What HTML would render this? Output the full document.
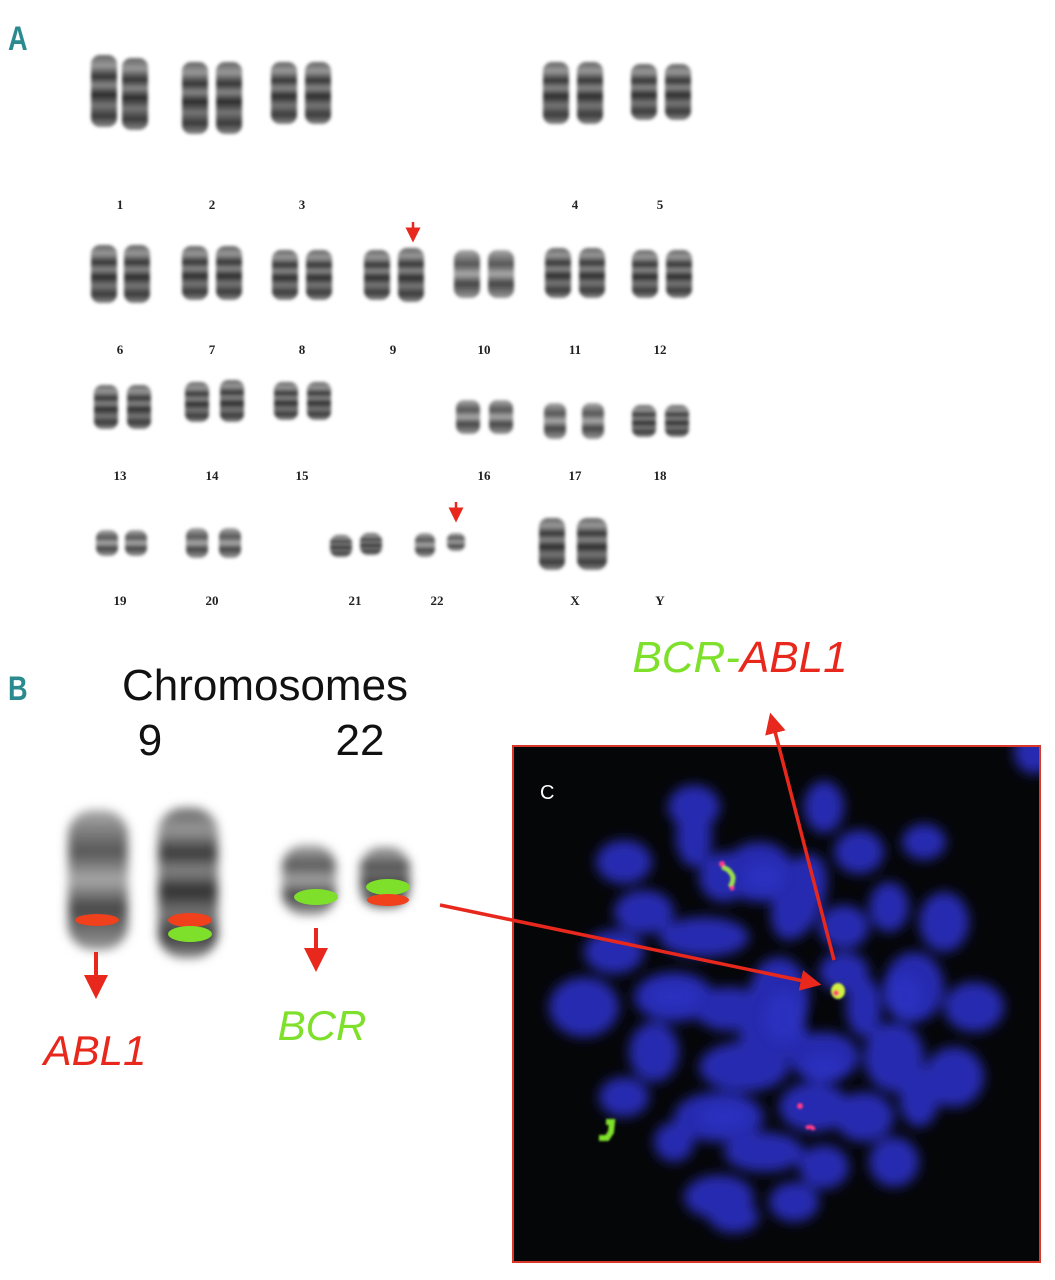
<!DOCTYPE html>
<html><head><meta charset="utf-8"><style>
html,body{margin:0;padding:0;background:#fff;}
svg{display:block}
</style></head><body>
<svg width="1055" height="1280" viewBox="0 0 1055 1280" xmlns="http://www.w3.org/2000/svg">
<defs>
<filter id="b1" x="-30%" y="-30%" width="160%" height="160%"><feGaussianBlur stdDeviation="1.5"/></filter>
<filter id="b2" x="-30%" y="-30%" width="160%" height="160%"><feGaussianBlur stdDeviation="5"/></filter>
<filter id="b4" x="-10%" y="-10%" width="120%" height="120%"><feGaussianBlur stdDeviation="6"/></filter>
<filter id="b3" x="-30%" y="-30%" width="160%" height="160%"><feGaussianBlur stdDeviation="1"/></filter>
<linearGradient id="cg" x1="0" y1="0" x2="0" y2="1">
<stop offset="0" stop-color="#666"/><stop offset="0.15" stop-color="#999"/><stop offset="0.3" stop-color="#333"/><stop offset="0.42" stop-color="#888"/><stop offset="0.55" stop-color="#2a2a2a"/><stop offset="0.7" stop-color="#777"/><stop offset="0.85" stop-color="#3a3a3a"/><stop offset="1" stop-color="#888"/>
</linearGradient>
<linearGradient id="cs" x1="0" y1="0" x2="0" y2="1">
<stop offset="0" stop-color="#aaa"/><stop offset="0.3" stop-color="#555"/><stop offset="0.5" stop-color="#aaa"/><stop offset="0.7" stop-color="#444"/><stop offset="1" stop-color="#999"/>
</linearGradient>
<marker id="ar" markerWidth="6" markerHeight="6" refX="5" refY="3" orient="auto" markerUnits="strokeWidth"><path d="M0,0 L6,3 L0,6 z" fill="#e8281c"/></marker>
</defs>
<text x="8" y="50" font-family="Liberation Sans, sans-serif" font-weight="bold" font-size="34" fill="#2a8a8e" transform="scale(0.8,1)" style="transform-origin:8px 50px">A</text>
<g filter="url(#b1)">
<rect x="91" y="55" width="26" height="72" rx="9" fill="url(#cg)"/><rect x="122" y="58" width="26" height="72" rx="9" fill="url(#cg)"/>
<rect x="182" y="62" width="26" height="72" rx="9" fill="url(#cg)"/><rect x="216" y="62" width="26" height="72" rx="9" fill="url(#cg)"/>
<rect x="271" y="62" width="26" height="62" rx="9" fill="url(#cg)"/><rect x="305" y="62" width="26" height="62" rx="9" fill="url(#cg)"/>
<rect x="543" y="62" width="26" height="62" rx="9" fill="url(#cg)"/><rect x="577" y="62" width="26" height="62" rx="9" fill="url(#cg)"/>
<rect x="631" y="64" width="26" height="56" rx="9" fill="url(#cg)"/><rect x="665" y="64" width="26" height="56" rx="9" fill="url(#cg)"/>
<rect x="91" y="245" width="26" height="58" rx="9" fill="url(#cg)"/><rect x="124" y="245" width="26" height="58" rx="9" fill="url(#cg)"/>
<rect x="182" y="246" width="26" height="54" rx="9" fill="url(#cg)"/><rect x="216" y="246" width="26" height="54" rx="9" fill="url(#cg)"/>
<rect x="272" y="250" width="26" height="50" rx="9" fill="url(#cg)"/><rect x="306" y="250" width="26" height="50" rx="9" fill="url(#cg)"/>
<rect x="364" y="250" width="26" height="50" rx="9" fill="url(#cg)"/><rect x="398" y="248" width="26" height="54" rx="9" fill="url(#cg)"/>
<rect x="454" y="250" width="26" height="48" rx="9" fill="url(#cs)"/><rect x="488" y="250" width="26" height="48" rx="9" fill="url(#cs)"/>
<rect x="545" y="248" width="26" height="50" rx="9" fill="url(#cg)"/><rect x="579" y="248" width="26" height="50" rx="9" fill="url(#cg)"/>
<rect x="632" y="250" width="26" height="48" rx="9" fill="url(#cg)"/><rect x="666" y="250" width="26" height="48" rx="9" fill="url(#cg)"/>
<rect x="94" y="385" width="24" height="44" rx="8" fill="url(#cg)"/><rect x="127" y="385" width="24" height="44" rx="8" fill="url(#cg)"/>
<rect x="185" y="382" width="24" height="40" rx="8" fill="url(#cg)"/><rect x="220" y="380" width="24" height="42" rx="8" fill="url(#cg)"/>
<rect x="274" y="382" width="24" height="38" rx="8" fill="url(#cg)"/><rect x="307" y="382" width="24" height="38" rx="8" fill="url(#cg)"/>
<rect x="456" y="400" width="24" height="34" rx="8" fill="url(#cs)"/><rect x="489" y="400" width="24" height="34" rx="8" fill="url(#cs)"/>
<rect x="544" y="403" width="22" height="36" rx="8" fill="url(#cs)"/><rect x="582" y="403" width="22" height="36" rx="8" fill="url(#cs)"/>
<rect x="632" y="405" width="24" height="32" rx="8" fill="url(#cg)"/><rect x="665" y="405" width="24" height="32" rx="8" fill="url(#cg)"/>
<rect x="96" y="530" width="22" height="26" rx="8" fill="url(#cs)"/><rect x="125" y="530" width="22" height="26" rx="8" fill="url(#cs)"/>
<rect x="186" y="528" width="22" height="30" rx="8" fill="url(#cs)"/><rect x="219" y="528" width="22" height="30" rx="8" fill="url(#cs)"/>
<rect x="330" y="535" width="22" height="22" rx="8" fill="url(#cg)"/><rect x="360" y="533" width="22" height="22" rx="8" fill="url(#cg)"/>
<rect x="415" y="533" width="20" height="24" rx="8" fill="url(#cs)"/><rect x="447" y="533" width="18" height="18" rx="7" fill="url(#cs)"/>
<rect x="539" y="518" width="26" height="52" rx="9" fill="url(#cg)"/><rect x="577" y="518" width="30" height="52" rx="10" fill="url(#cg)"/>
</g>
<g font-family="Liberation Serif, serif" font-weight="bold" font-size="13" fill="#222" text-anchor="middle">
<text x="120" y="209">1</text><text x="212" y="209">2</text><text x="302" y="209">3</text><text x="575" y="209">4</text><text x="660" y="209">5</text>
<text x="120" y="354">6</text><text x="212" y="354">7</text><text x="302" y="354">8</text><text x="393" y="354">9</text><text x="484" y="354">10</text><text x="575" y="354">11</text><text x="660" y="354">12</text>
<text x="120" y="480">13</text><text x="212" y="480">14</text><text x="302" y="480">15</text><text x="484" y="480">16</text><text x="575" y="480">17</text><text x="660" y="480">18</text>
<text x="120" y="605">19</text><text x="212" y="605">20</text><text x="355" y="605">21</text><text x="437" y="605">22</text><text x="575" y="605">X</text><text x="660" y="605">Y</text>
</g>
<line x1="413" y1="222" x2="413" y2="240" stroke="#e8281c" stroke-width="2.5" marker-end="url(#ar)"/>
<line x1="456" y1="502" x2="456" y2="520" stroke="#e8281c" stroke-width="2.5" marker-end="url(#ar)"/>
<text x="8" y="700" font-family="Liberation Sans, sans-serif" font-weight="bold" font-size="34" fill="#2a8a8e" transform="scale(0.8,1)" style="transform-origin:8px 700px">B</text>
<g font-family="Liberation Sans, sans-serif" font-size="44" fill="#111" text-anchor="middle">
<text x="265" y="700">Chromosomes</text><text x="150" y="755">9</text><text x="360" y="755">22</text>
</g>
<g filter="url(#b2)">
<rect x="68" y="810" width="60" height="140" rx="25" fill="url(#cs)"/>
<rect x="158" y="808" width="60" height="150" rx="25" fill="url(#cg)"/>
<rect x="282" y="845" width="54" height="70" rx="22" fill="url(#cs)"/>
<rect x="360" y="848" width="50" height="60" rx="20" fill="url(#cg)"/>
</g>
<ellipse cx="97" cy="920" rx="22" ry="6" fill="#f0401c"/>
<ellipse cx="190" cy="920" rx="22" ry="7" fill="#f0401c"/>
<ellipse cx="190" cy="934" rx="22" ry="8" fill="#7ee02a"/>
<ellipse cx="316" cy="897" rx="22" ry="8" fill="#7ee02a"/>
<ellipse cx="388" cy="887" rx="22" ry="8" fill="#7ee02a"/>
<ellipse cx="388" cy="900" rx="21" ry="6" fill="#f0401c"/>
<line x1="96" y1="952" x2="96" y2="995" stroke="#e8281c" stroke-width="4" marker-end="url(#ar)"/>
<line x1="316" y1="928" x2="316" y2="968" stroke="#e8281c" stroke-width="4" marker-end="url(#ar)"/>
<text x="95" y="1065" text-anchor="middle" font-family="Liberation Sans, sans-serif" font-style="italic" font-size="42" fill="#e8281c">ABL1</text>
<text x="322" y="1040" text-anchor="middle" font-family="Liberation Sans, sans-serif" font-style="italic" font-size="42" fill="#7ee02a">BCR</text>
<text x="740" y="672" text-anchor="middle" font-family="Liberation Sans, sans-serif" font-style="italic" font-size="44"><tspan fill="#7ee02a">BCR-</tspan><tspan fill="#e8281c">ABL1</tspan></text>
<rect x="513" y="746" width="527" height="516" fill="#050608" stroke="#d9372a" stroke-width="2"/>
<svg x="514" y="747" width="525" height="514">
<g filter="url(#b4)" fill="#2529b0">
<ellipse cx="180" cy="60" rx="26" ry="22"/><ellipse cx="310" cy="60" rx="20" ry="26"/><ellipse cx="410" cy="95" rx="22" ry="18"/>
<ellipse cx="180" cy="90" rx="18" ry="30"/><ellipse cx="110" cy="115" rx="28" ry="22"/><ellipse cx="245" cy="125" rx="35" ry="30"/>
<ellipse cx="345" cy="105" rx="25" ry="22"/><ellipse cx="210" cy="130" rx="25" ry="25"/><ellipse cx="285" cy="150" rx="25" ry="45" transform="rotate(20 285 150)"/>
<ellipse cx="130" cy="165" rx="30" ry="22"/><ellipse cx="100" cy="205" rx="30" ry="22"/><ellipse cx="190" cy="190" rx="45" ry="20"/>
<ellipse cx="330" cy="180" rx="25" ry="22"/><ellipse cx="375" cy="160" rx="20" ry="25"/><ellipse cx="430" cy="175" rx="25" ry="30"/>
<ellipse cx="70" cy="260" rx="35" ry="30"/><ellipse cx="160" cy="250" rx="40" ry="25"/><ellipse cx="215" cy="262" rx="35" ry="22"/>
<ellipse cx="265" cy="250" rx="30" ry="40"/><ellipse cx="350" cy="260" rx="18" ry="30"/><ellipse cx="400" cy="240" rx="30" ry="35"/>
<ellipse cx="460" cy="260" rx="30" ry="25"/><ellipse cx="140" cy="305" rx="25" ry="30"/><ellipse cx="230" cy="320" rx="45" ry="25"/>
<ellipse cx="310" cy="310" rx="35" ry="25"/><ellipse cx="380" cy="310" rx="30" ry="35"/><ellipse cx="440" cy="330" rx="30" ry="30"/>
<ellipse cx="110" cy="350" rx="25" ry="20"/><ellipse cx="205" cy="370" rx="45" ry="25"/><ellipse cx="300" cy="360" rx="35" ry="25"/>
<ellipse cx="350" cy="370" rx="30" ry="25"/><ellipse cx="405" cy="350" rx="20" ry="30"/><ellipse cx="250" cy="405" rx="40" ry="20"/>
<ellipse cx="160" cy="395" rx="20" ry="20"/><ellipse cx="310" cy="420" rx="25" ry="22"/><ellipse cx="380" cy="415" rx="25" ry="25"/>
<ellipse cx="205" cy="450" rx="35" ry="22"/><ellipse cx="280" cy="455" rx="25" ry="20"/><ellipse cx="220" cy="470" rx="25" ry="16"/>
<ellipse cx="260" cy="290" rx="35" ry="22"/><ellipse cx="330" cy="225" rx="25" ry="20"/>
<ellipse cx="520" cy="5" rx="20" ry="22"/>
</g>
<g filter="url(#b4)" fill="#2f34c8" opacity="0.6">
<ellipse cx="250" cy="130" rx="20" ry="15"/><ellipse cx="270" cy="270" rx="20" ry="25"/><ellipse cx="160" cy="250" rx="25" ry="12"/>
<ellipse cx="390" cy="250" rx="18" ry="22"/><ellipse cx="310" cy="320" rx="18" ry="12"/><ellipse cx="210" cy="370" rx="25" ry="12"/>
</g>
<g filter="url(#b3)">
<path d="M208,120 q8,2 11,10 q0,6 -3,10" stroke="#9ae04a" stroke-width="5" fill="none"/>
<circle cx="208" cy="117" r="3" fill="#ff3a8a"/><circle cx="218" cy="141" r="2.5" fill="#ff3a8a"/>
<ellipse cx="324" cy="244" rx="7" ry="8" fill="#d0f040"/><circle cx="322" cy="246" r="3" fill="#ff4a6a"/>
<path d="M92,375 l6,0 l-1,10 l-4,6 l-8,0" stroke="#7ee02a" stroke-width="6" fill="none"/>
<circle cx="286" cy="359" r="3" fill="#ff3a8a"/><path d="M292,381 q6,-3 8,2" stroke="#ff3a8a" stroke-width="4" fill="none"/>
</g>
<text x="26" y="52" font-family="Liberation Sans, sans-serif" font-size="20" fill="#fff">C</text>
</svg>
<line x1="440" y1="905" x2="818" y2="984" stroke="#e8281c" stroke-width="3.5" marker-end="url(#ar)"/>
<line x1="834" y1="960" x2="771" y2="716" stroke="#e8281c" stroke-width="3.5" marker-end="url(#ar)"/>
</svg>
</body></html>
